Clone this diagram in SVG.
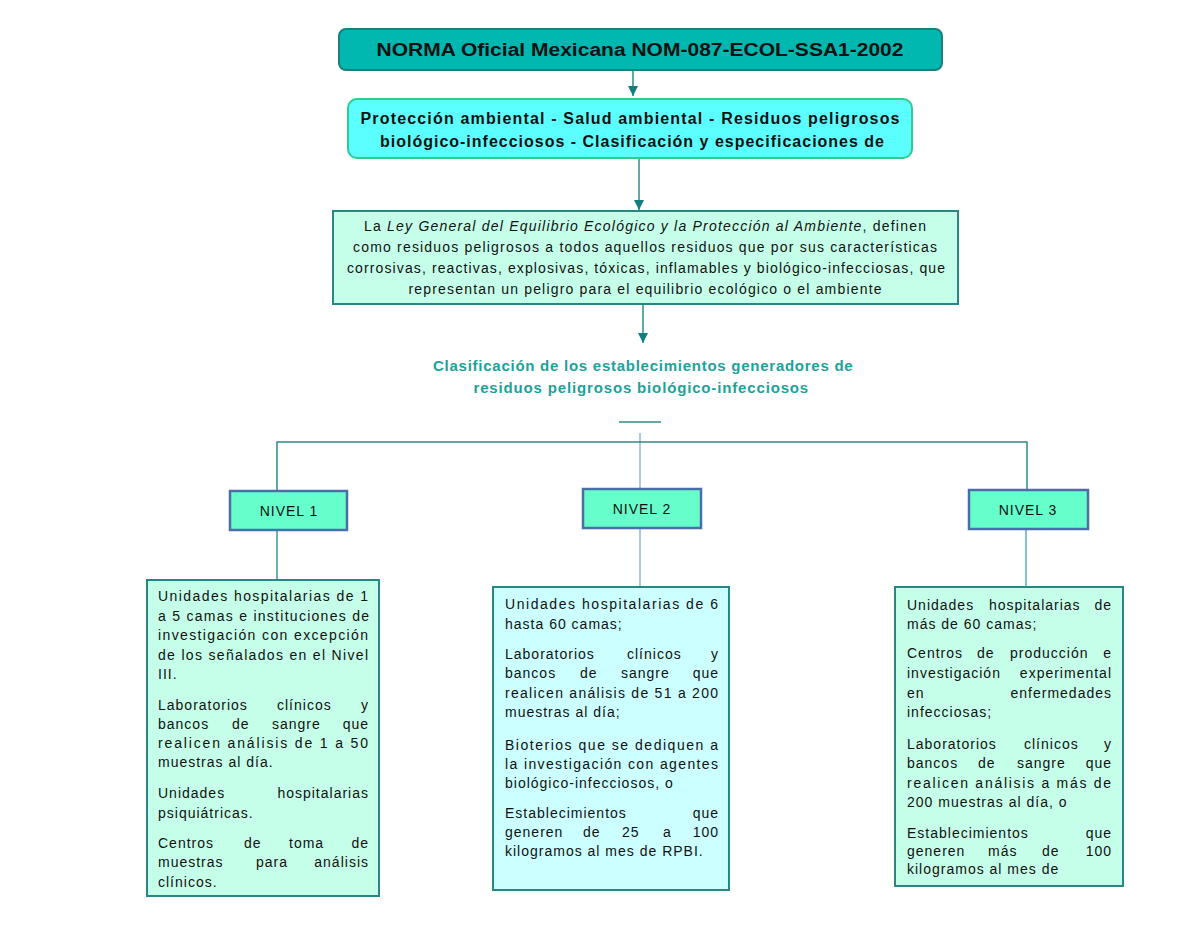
<svg xmlns="http://www.w3.org/2000/svg" width="1200" height="927" viewBox="0 0 1200 927">
<defs>
<marker id="ah" markerUnits="userSpaceOnUse" markerWidth="12" markerHeight="12" refX="10" refY="5" orient="auto">
<path d="M0,0 L10,5 L0,10 Z" fill="#127E7E"/>
</marker>
<style>
text{font-family:"Liberation Sans",Arial,sans-serif;fill:#111}
.b{font-weight:bold}
.t{font-size:14px;letter-spacing:1px}
.e{text-anchor:end}
.m{text-anchor:middle}
.h{font-size:15px;font-weight:bold;fill:#1AA39A;text-anchor:middle;letter-spacing:0.3px}
.lvl{fill:#66FFCC;stroke:#4A6EA8;stroke-width:2.5}
.det{fill:#C6FFE9;stroke:#2A8585;stroke-width:2}
.c{fill:none;stroke:#2E8B8B;stroke-width:1.5}
</style>
</defs>
<rect width="1200" height="927" fill="#fff"/>

<g id="connectors">
<line class="c" x1="633" y1="71" x2="633" y2="96" stroke="#1F8A8A" marker-end="url(#ah)"/>
<line class="c" x1="639" y1="159" x2="639" y2="210" stroke="#1F8A8A" marker-end="url(#ah)"/>
<line class="c" x1="643" y1="305" x2="643" y2="343" stroke="#3A9A9A" marker-end="url(#ah)"/>
<line x1="619" y1="422" x2="661" y2="422" stroke="#2E8B8B" stroke-width="1.5"/>
<line x1="640" y1="433" x2="640" y2="489" stroke="#95B3D7" stroke-width="1.5"/>
<polyline class="c" points="277,491 277,442 1027,442 1027,490"/>
<line x1="277" y1="530" x2="277" y2="580" stroke="#3A9A9A" stroke-width="1.5"/>
<line x1="640" y1="528" x2="640" y2="587" stroke="#95B3D7" stroke-width="1.5"/>
<line x1="1026" y1="529" x2="1026" y2="587" stroke="#5AAFAF" stroke-width="1.5"/>
</g>

<g id="title">
<rect x="339" y="29" width="603" height="41" rx="7" fill="#00B8B0" stroke="#1B7F7F" stroke-width="2"/>
<text class="b m" x="640" y="56" font-size="18" textLength="527" lengthAdjust="spacingAndGlyphs">NORMA Oficial Mexicana NOM-087-ECOL-SSA1-2002</text>
</g>

<g id="topics">
<rect x="348" y="99" width="564" height="59" rx="9" fill="#5CFFFF" stroke="#2ECC8F" stroke-width="2"/>
<text class="b m" x="630" y="124" font-size="16" textLength="539">Protección ambiental - Salud ambiental - Residuos peligrosos</text>
<text class="b m" x="632" y="147" font-size="16" textLength="504">biológico-infecciosos - Clasificación y especificaciones de</text>
</g>

<g id="definition">
<rect x="333" y="211" width="625" height="93" fill="#C6FFE9" stroke="#2A8585" stroke-width="2"/>
<text class="t m" x="645" y="231" textLength="562" style="letter-spacing:0">La <tspan font-style="italic">Ley General del Equilibrio Ecológico y la Protección al Ambiente</tspan>, definen</text>
<text class="t m" x="645" y="252" textLength="584" style="letter-spacing:0">como residuos peligrosos a todos aquellos residuos que por sus características</text>
<text class="t m" x="646" y="273" textLength="598" style="letter-spacing:0">corrosivas, reactivas, explosivas, tóxicas, inflamables y biológico-infecciosas, que</text>
<text class="t m" x="645" y="294" textLength="473" style="letter-spacing:0">representan un peligro para el equilibrio ecológico o el ambiente</text>
</g>

<g id="heading">
<text class="h" x="643" y="371" textLength="420">Clasificación de los establecimientos generadores de</text>
<text class="h" x="641" y="393" textLength="335">residuos peligrosos biológico-infecciosos</text>
</g>

<g id="nivel1">
<rect class="lvl" x="230" y="491" width="117" height="39"/>
<text class="t m" x="289" y="516">NIVEL 1</text>
</g>
<g id="nivel2">
<rect class="lvl" x="583" y="489" width="118" height="39"/>
<text class="t m" x="642" y="514">NIVEL 2</text>
</g>
<g id="nivel3">
<rect class="lvl" x="969" y="490" width="119" height="39"/>
<text class="t m" x="1028" y="515">NIVEL 3</text>
</g>

<g id="detalle1">
<rect class="det" x="147" y="580" width="232" height="316"/>
<text class="t" x="158" y="601" textLength="211">Unidades hospitalarias de 1</text>
<text class="t" x="158" y="621" textLength="212">a 5 camas e instituciones de</text>
<text class="t" x="158" y="640" textLength="211">investigación con excepción</text>
<text class="t" x="158" y="660" textLength="211">de los señalados en el Nivel</text>
<text class="t" x="158" y="679">III.</text>
<text class="t" x="158" y="710">Laboratorios</text><text class="t" x="277" y="710">clínicos</text><text class="t e" x="369" y="710">y</text>
<text class="t" x="158" y="729">bancos</text><text class="t" x="232" y="729">de</text><text class="t" x="272" y="729">sangre</text><text class="t e" x="369" y="729">que</text>
<text class="t" x="158" y="748" textLength="211">realicen análisis de 1 a 50</text>
<text class="t" x="158" y="767">muestras al día.</text>
<text class="t" x="158" y="798">Unidades</text><text class="t e" x="369" y="798">hospitalarias</text>
<text class="t" x="158" y="818">psiquiátricas.</text>
<text class="t" x="158" y="848">Centros</text><text class="t" x="244" y="848">de</text><text class="t" x="289" y="848">toma</text><text class="t e" x="369" y="848">de</text>
<text class="t" x="158" y="867">muestras</text><text class="t" x="256" y="867">para</text><text class="t e" x="369" y="867">análisis</text>
<text class="t" x="158" y="887">clínicos.</text>
</g>

<g id="detalle2">
<rect x="493" y="587" width="236" height="303" fill="#CCFFFF" stroke="#2A8585" stroke-width="2"/>
<text class="t" x="505" y="609" textLength="214">Unidades hospitalarias de 6</text>
<text class="t" x="505" y="629">hasta 60 camas;</text>
<text class="t" x="505" y="659">Laboratorios</text><text class="t" x="627" y="659">clínicos</text><text class="t e" x="719" y="659">y</text>
<text class="t" x="505" y="678">bancos</text><text class="t" x="580" y="678">de</text><text class="t" x="621" y="678">sangre</text><text class="t e" x="719" y="678">que</text>
<text class="t" x="505" y="698" textLength="214">realicen análisis de 51 a 200</text>
<text class="t" x="505" y="717">muestras al día;</text>
<text class="t" x="505" y="750" textLength="214">Bioterios que se dediquen a</text>
<text class="t" x="505" y="769" textLength="214">la investigación con agentes</text>
<text class="t" x="505" y="788">biológico-infecciosos, o</text>
<text class="t" x="505" y="818">Establecimientos</text><text class="t e" x="719" y="818">que</text>
<text class="t" x="505" y="837">generen</text><text class="t" x="583" y="837">de</text><text class="t" x="622" y="837">25</text><text class="t" x="663" y="837">a</text><text class="t e" x="719" y="837">100</text>
<text class="t" x="505" y="856">kilogramos al mes de RPBI.</text>
</g>

<g id="detalle3">
<rect class="det" x="895" y="587" width="228" height="299"/>
<text class="t" x="907" y="610">Unidades</text><text class="t" x="989" y="610">hospitalarias</text><text class="t e" x="1112" y="610">de</text>
<text class="t" x="907" y="629">más de 60 camas;</text>
<text class="t" x="907" y="658">Centros</text><text class="t" x="977" y="658">de</text><text class="t" x="1010" y="658">producción</text><text class="t e" x="1112" y="658">e</text>
<text class="t" x="907" y="678">investigación</text><text class="t e" x="1112" y="678">experimental</text>
<text class="t" x="907" y="698">en</text><text class="t e" x="1112" y="698">enfermedades</text>
<text class="t" x="907" y="717">infecciosas;</text>
<text class="t" x="907" y="749">Laboratorios</text><text class="t" x="1024" y="749">clínicos</text><text class="t e" x="1112" y="749">y</text>
<text class="t" x="907" y="768">bancos</text><text class="t" x="978" y="768">de</text><text class="t" x="1017" y="768">sangre</text><text class="t e" x="1112" y="768">que</text>
<text class="t" x="907" y="788" textLength="205">realicen análisis a más de</text>
<text class="t" x="907" y="807">200 muestras al día, o</text>
<text class="t" x="907" y="838">Establecimientos</text><text class="t e" x="1112" y="838">que</text>
<text class="t" x="907" y="856">generen</text><text class="t" x="988" y="856">más</text><text class="t" x="1042" y="856">de</text><text class="t e" x="1112" y="856">100</text>
<text class="t" x="907" y="874">kilogramos al mes de</text>
</g>
</svg>
